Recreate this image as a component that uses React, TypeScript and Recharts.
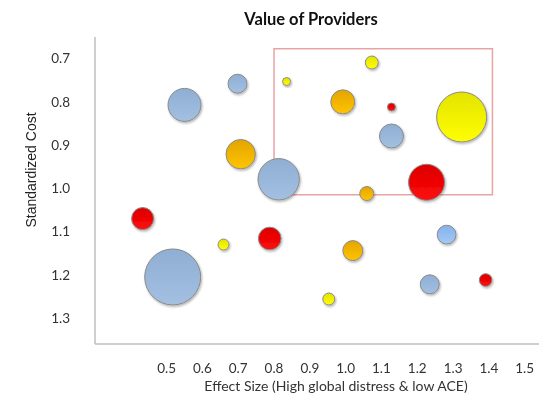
import { Label, ReferenceArea, Scatter, ScatterChart, XAxis, YAxis, ZAxis } from "recharts"

// bubbles: effect size, standardized cost, bubble size
type Bubble = { x: number; y: number; z: number }

const blueProviders: Bubble[] = [
	{ x: 0.55, y: 0.807, z: 272 },
	{ x: 0.698, y: 0.758, z: 90 },
	{ x: 0.813, y: 0.979, z: 428 },
	{ x: 1.128, y: 0.879, z: 144 },
	{ x: 0.517, y: 1.205, z: 784 },
	{ x: 1.235, y: 1.222, z: 90 }
]

const lightBlueProviders: Bubble[] = [{ x: 1.282, y: 1.107, z: 88 }]

const orangeProviders: Bubble[] = [
	{ x: 0.707, y: 0.921, z: 216 },
	{ x: 0.992, y: 0.8, z: 144 },
	{ x: 1.059, y: 1.012, z: 49 },
	{ x: 1.02, y: 1.144, z: 100 }
]

const yellowProviders: Bubble[] = [
	{ x: 1.073, y: 0.709, z: 42 },
	{ x: 0.835, y: 0.753, z: 16 },
	{ x: 1.324, y: 0.835, z: 625 },
	{ x: 0.659, y: 1.13, z: 30 },
	{ x: 0.953, y: 1.256, z: 36 }
]

const redProviders: Bubble[] = [
	{ x: 1.128, y: 0.812, z: 16 },
	{ x: 1.226, y: 0.986, z: 324 },
	{ x: 0.433, y: 1.07, z: 121 },
	{ x: 0.788, y: 1.116, z: 128 },
	{ x: 1.391, y: 1.212, z: 40 }
]

const xTicks = [0.5, 0.6, 0.7, 0.8, 0.9, 1.0, 1.1, 1.2, 1.3, 1.4, 1.5]
const yTicks = [0.7, 0.8, 0.9, 1.0, 1.1, 1.2, 1.3]

// highlighted quadrant
const boxX = [0.8, 1.41]
const boxY = [0.677, 1.015]

const series = [
	{ name: "blue", data: blueProviders, from: "#8FAED3", to: "#A3C0E2" },
	{ name: "lightBlue", data: lightBlueProviders, from: "#86B3EC", to: "#A2C8F6" },
	{ name: "orange", data: orangeProviders, from: "#E3A500", to: "#FFC400" },
	{ name: "yellow", data: yellowProviders, from: "#E3E300", to: "#FFFF00" },
	{ name: "red", data: redProviders, from: "#DC0000", to: "#FF0A0A" }
]

const tickStyle = { fontFamily: "Lato, 'Open Sans', sans-serif", fontSize: 13.5, fill: "#333" }

const BubbleShape = (props: any) => {
	const { cx, cy, size, width, fill } = props
	const r = size != null ? Math.sqrt(size / Math.PI) : width / 2
	return <circle cx={cx} cy={cy} r={r} fill={fill} stroke="#8a8a8a" strokeWidth={1} filter="url(#bubbleShadow)" />
}

export default function App() {
	return (
		<div style={{ position: "fixed", left: 0, top: 0, width: 542, height: 402, background: "#fff" }}>
			<div
				style={{
					position: "absolute",
					left: 0,
					width: 622,
					top: 9,
					textAlign: "center",
					fontFamily: "Lato, 'Open Sans', sans-serif",
					fontWeight: "bold",
					fontSize: 16.5,
					color: "#111"
				}}
			>
				Value of Providers
			</div>
			<ScatterChart width={542} height={402} margin={{ top: 37, right: 3, bottom: 0, left: 0 }}>
				<defs>
					{series.map(s => (
						<linearGradient key={s.name} id={`grad-${s.name}`} x1="0" y1="0" x2="0" y2="1">
							<stop offset="0%" stopColor={s.from} />
							<stop offset="100%" stopColor={s.to} />
						</linearGradient>
					))}
					<filter id="bubbleShadow" x="-30%" y="-30%" width="160%" height="160%">
						<feDropShadow dx="1" dy="1.5" stdDeviation="1.2" floodColor="#000" floodOpacity="0.3" />
					</filter>
				</defs>
				<XAxis
					type="number"
					dataKey="x"
					domain={[0.3, 1.54]}
					ticks={xTicks}
					tickFormatter={(v: number) => v.toFixed(1)}
					tick={tickStyle}
					tickLine={false}
					tickSize={0}
					tickMargin={19}
					axisLine={{ stroke: "#BFBFBF", strokeWidth: 1.5 }}
					height={58}
					allowDataOverflow
				>
					<Label
						content={({ viewBox }: any) => (
							<text
								x={336}
								y={viewBox.y + 47}
								textAnchor="middle"
								fontFamily="Lato, 'Open Sans', sans-serif"
								fontSize={14}
								fill="#333"
							>
								Effect Size (High global distress &amp; low ACE)
							</text>
						)}
					/>
				</XAxis>
				<YAxis
					type="number"
					dataKey="y"
					reversed
					domain={[0.65, 1.36]}
					ticks={yTicks}
					tickFormatter={(v: number) => v.toFixed(1)}
					tick={tickStyle}
					tickLine={false}
					tickSize={0}
					tickMargin={25}
					axisLine={{ stroke: "#BFBFBF", strokeWidth: 1.5 }}
					width={95}
					allowDataOverflow
				>
					<Label
						content={() => (
							<text
								x={36}
								y={170}
								transform="rotate(-90 36 170)"
								textAnchor="middle"
								fontFamily="'Liberation Sans', Arial, sans-serif"
								fontSize={14}
								fill="#222"
							>
								Standardized Cost
							</text>
						)}
					/>
				</YAxis>
				<ZAxis type="number" dataKey="z" domain={[0, 800]} range={[0, 800 * Math.PI]} />
				<ReferenceArea
					x1={boxX[0]}
					x2={boxX[1]}
					y1={boxY[0]}
					y2={boxY[1]}
					fill="none"
					stroke="#E8A4A4"
					strokeWidth={1.5}
					ifOverflow="visible"
				/>
				{series.map(s => (
					<Scatter
						key={s.name}
						name={s.name}
						data={s.data}
						fill={`url(#grad-${s.name})`}
						shape={BubbleShape}
						isAnimationActive={false}
					/>
				))}
			</ScatterChart>
		</div>
	)
}
